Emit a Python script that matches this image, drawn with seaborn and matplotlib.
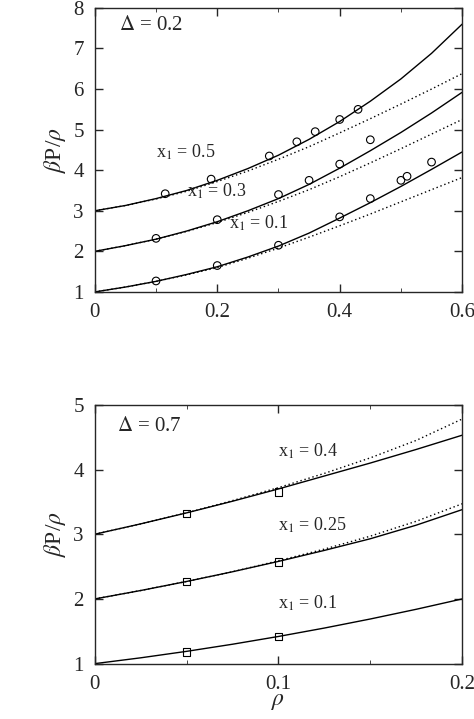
import matplotlib
matplotlib.use("Agg")
import matplotlib.pyplot as plt
import numpy as np
import seaborn as sns

sns.set_style("ticks")
plt.rcParams["font.family"] = ["Liberation Serif", "DejaVu Serif"]
plt.rcParams["mathtext.fontset"] = "stix"

# --- top panel (Delta = 0.2) ---
rho_top = [0, .05, .1, .15, .2, .25, .3, .35, .4, .45, .5, .55, .6]
solid_01 = [1.0, 1.12, 1.26, 1.43, 1.62, 1.86, 2.13, 2.45, 2.82, 3.2, 3.6, 4.02, 4.45]
dot_01 = [1.0, 1.12, 1.26, 1.42, 1.6, 1.83, 2.08, 2.35, 2.63, 2.92, 3.22, 3.52, 3.82]
solid_03 = [2.0, 2.14, 2.3, 2.5, 2.73, 3.0, 3.3, 3.65, 4.05, 4.48, 4.93, 5.41, 5.92]
dot_03 = [2.0, 2.14, 2.3, 2.49, 2.71, 2.96, 3.23, 3.52, 3.84, 4.18, 4.53, 4.89, 5.25]
solid_05 = [3.0, 3.13, 3.3, 3.5, 3.75, 4.04, 4.37, 4.74, 5.15, 5.6, 6.08, 6.6, 7.15, 7.6][:13]
solid_05 = [3.0, 3.13, 3.3, 3.5, 3.75, 4.04, 4.37, 4.76, 5.2, 5.7, 6.25, 6.88, 7.6]
dot_05 = [3.0, 3.13, 3.29, 3.48, 3.72, 3.98, 4.27, 4.58, 4.92, 5.27, 5.63, 6.0, 6.38]
circ_x = [0.1, 0.2, 0.3, 0.4, 0.45, 0.5, 0.51, 0.55,
          0.1, 0.2, 0.3, 0.35, 0.4, 0.45,
          0.115, 0.19, 0.285, 0.33, 0.36, 0.4, 0.43]
circ_y = [1.27, 1.65, 2.15, 2.85, 3.3, 3.75, 3.85, 4.2,
          2.32, 2.78, 3.4, 3.75, 4.15, 4.75,
          3.42, 3.78, 4.35, 4.7, 4.95, 5.25, 5.5]

# --- bottom panel (Delta = 0.7) ---
rho_bot = [0, .025, .05, .075, .1, .125, .15, .175, .2]
solid_b01 = [1.0, 1.09, 1.19, 1.3, 1.42, 1.55, 1.69, 1.84, 2.0]
solid_b025 = [2.0, 2.13, 2.27, 2.42, 2.58, 2.75, 2.93, 3.14, 3.38]
dot_b025 = [2.0, 2.13, 2.27, 2.42, 2.59, 2.77, 2.97, 3.2, 3.47]
solid_b04 = [3.0, 3.16, 3.33, 3.51, 3.7, 3.9, 4.1, 4.31, 4.53]
dot_b04 = [3.0, 3.16, 3.33, 3.52, 3.72, 3.94, 4.18, 4.45, 4.78]
sq_x = [0.05, 0.1, 0.05, 0.1, 0.05, 0.1]
sq_y = [1.18, 1.42, 2.27, 2.57, 3.32, 3.65]

fig = plt.figure(figsize=(4.74, 7.19), dpi=100)
ax1 = fig.add_axes([0.2, 0.594, 0.775, 0.395])
ax2 = fig.add_axes([0.2, 0.077, 0.775, 0.36])

for s, d in [(solid_01, dot_01), (solid_03, dot_03), (solid_05, dot_05)]:
    sns.lineplot(x=rho_top, y=s, color="black", lw=1, ax=ax1)
    sns.lineplot(x=rho_top, y=d, color="black", lw=1, ls=(0, (1, 2)), ax=ax1)
sns.scatterplot(x=circ_x, y=circ_y, marker="o", s=30, facecolor="none",
                edgecolor="black", linewidth=0.8, ax=ax1)

sns.lineplot(x=rho_bot, y=solid_b01, color="black", lw=1, ax=ax2)
for s, d in [(solid_b025, dot_b025), (solid_b04, dot_b04)]:
    sns.lineplot(x=rho_bot, y=s, color="black", lw=1, ax=ax2)
    sns.lineplot(x=rho_bot, y=d, color="black", lw=1, ls=(0, (1, 2)), ax=ax2)
sns.scatterplot(x=sq_x, y=sq_y, marker="s", s=30, facecolor="none",
                edgecolor="black", linewidth=0.8, ax=ax2)

ax1.set_xlim(0, 0.6)
ax1.set_ylim(1, 8)
ax1.set_xticks([0, 0.2, 0.4, 0.6])
ax1.set_xticklabels(["0", "0.2", "0.4", "0.6"])
ax1.set_xticks([0.1, 0.3, 0.5], minor=True)
ax1.set_yticks(range(1, 9))
ax2.set_xlim(0, 0.2)
ax2.set_ylim(1, 5)
ax2.set_xticks([0, 0.1, 0.2])
ax2.set_xticklabels(["0", "0.1", "0.2"])
ax2.set_xticks([0.05, 0.15], minor=True)
ax2.set_yticks(range(1, 6))

for ax in (ax1, ax2):
    ax.tick_params(direction="in", top=True, right=True, labelsize=15, length=6,
                   width=1, pad=8)
    ax.tick_params(which="minor", direction="in", top=True, right=True, length=3)
    ax.set_ylabel(r"$\beta$P/$\rho$", fontsize=17, labelpad=4)
    for sp in ax.spines.values():
        sp.set_linewidth(1)
ax2.set_xlabel(r"$\rho$", fontsize=17, labelpad=-2)

ax1.text(0.04, 7.45, r"$\Delta$ = 0.2", fontsize=15)
ax1.text(0.10, 4.3, r"x$_1$ = 0.5", fontsize=13)
ax1.text(0.15, 3.35, r"x$_1$ = 0.3", fontsize=13)
ax1.text(0.22, 2.55, r"x$_1$ = 0.1", fontsize=13)
ax2.text(0.012, 4.6, r"$\Delta$ = 0.7", fontsize=15)
ax2.text(0.1, 4.2, r"x$_1$ = 0.4", fontsize=13)
ax2.text(0.1, 3.05, r"x$_1$ = 0.25", fontsize=13)
ax2.text(0.1, 1.85, r"x$_1$ = 0.1", fontsize=13)

fig.savefig("out.png", dpi=100)
